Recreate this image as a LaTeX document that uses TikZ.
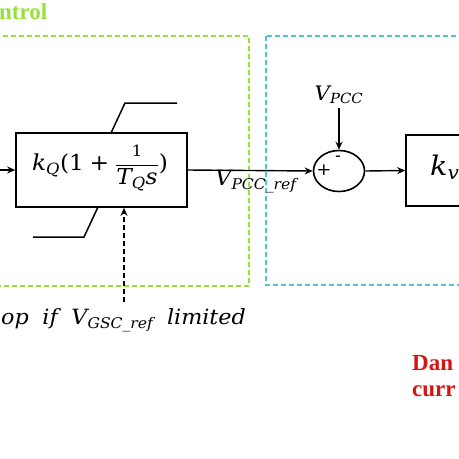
\documentclass[tikz,border=0pt]{standalone}
\usepackage{amsmath}
\usepackage{fontspec}
\setmainfont{Liberation Serif}
\newfontfamily\mathserif{DejaVu Serif}[FakeStretch=1.06]
\newcommand{\myi}[1]{\text{\mathserif\itshape #1}}
\newcommand{\myu}[1]{\text{\mathserif #1}}
\usetikzlibrary{arrows.meta,shapes.geometric}
\definecolor{lgreen}{RGB}{150,225,60}
\definecolor{lcyan}{RGB}{80,195,220}
\definecolor{dred}{RGB}{215,20,20}
\begin{document}
\begin{tikzpicture}[x=1pt,y=-1pt,
  blk/.style={draw,line width=1.6pt,inner sep=0pt},
  wire/.style={line width=1.5pt},
  arr/.style={line width=1.4pt,-{Stealth[length=8pt,width=7pt]}},
  mtxt/.style={font=\fontsize{20}{24}\selectfont,inner sep=0pt},
  ttl/.style={font=\fontsize{23}{26}\selectfont\bfseries,inner sep=0pt,anchor=west}]
\useasboundingbox (0,0) rectangle (459,459);
\clip (0,0) rectangle (459,459);
% region boxes
\draw[lgreen,line width=1.3pt,dash pattern=on 5pt off 3pt] (-10,36) rectangle (249,286);
\draw[lcyan,line width=1.3pt,dash pattern=on 5pt off 3pt] (266,36) rectangle (520,285);
\node[ttl,text=lgreen] (t1) at (-1,12) {ntrol};
% PI block
\node[blk,minimum width=171pt,minimum height=74pt] (pi) at (101.5,170) {};
\node[mtxt,font=\fontsize{22}{26}\selectfont] (pitxt) at (100,168) {$\myi{k}_{\myi{Q}}\myu{(1}\;\myu{+}\;\dfrac{\scriptstyle\myu{1}}{\myi{T}_{\myi{Q}}\myi{s}}\myu{)}$};
\coordinate (in) at (-5,170);
\draw[arr] (in) -- (pi.west);
% limiter lines
\coordinate (lt1) at (111,133);
\coordinate (lt2) at (125,103);
\coordinate (lt3) at (177,103);
\draw[wire] (lt1) -- (lt2) -- (lt3);
\coordinate (lb1) at (98,207);
\coordinate (lb2) at (84,237);
\coordinate (lb3) at (33,237);
\draw[wire] (lb1) -- (lb2) -- (lb3);
% dashed arrow
\coordinate (dstart) at (124,302);
\draw[arr,dash pattern=on 5pt off 3pt] (dstart) -- (pi.south -| dstart);
\node[mtxt,anchor=west,font=\fontsize{21}{24}\selectfont] (stoptxt) at (1,320) {$\myi{op}\hspace{0.65em}\myi{if}\hspace{0.65em}\myi{V}_{\myi{GSC\_ref}}\hspace{0.65em}\myi{limited}$};
% sum
\node[draw,ellipse,line width=1.6pt,minimum width=51pt,minimum height=41pt,inner sep=0pt] (sum) at (339,171) {};
\node[inner sep=0pt,font=\fontsize{17}{18}\selectfont] (plus) at (324,170) {\mathserif +};
\node[inner sep=0pt,font=\fontsize{16}{17}\bfseries\selectfont] (minus) at (338,158) {-};
\draw[arr] (pi.east) -- (sum.west);
\node[mtxt,font=\fontsize{21}{24}\selectfont] (vref) at (256,182) {$\myi{V}_{\myi{PCC\_ref}}$};
\node[mtxt] (vpcc) at (339,95) {$\myi{V}_{\myi{PCC}}$};
\coordinate (vpa) at (339,108);
\draw[arr] (vpa) -- (sum.north);
% second block
\node[blk,minimum width=114pt,minimum height=71pt] (kv) at (463,170.5) {};
\node[mtxt,anchor=west,font=\fontsize{27}{30}\selectfont] (kvtxt) at (430,167) {$\myi{k}_{\myi{v}}$};
\draw[arr] (sum.east) -- (kv.west);
% red text
\node[ttl,text=dred] (d1) at (412,363) {Dan};
\node[ttl,text=dred] (d2) at (412,391) {curr};
\end{tikzpicture}
\end{document}
